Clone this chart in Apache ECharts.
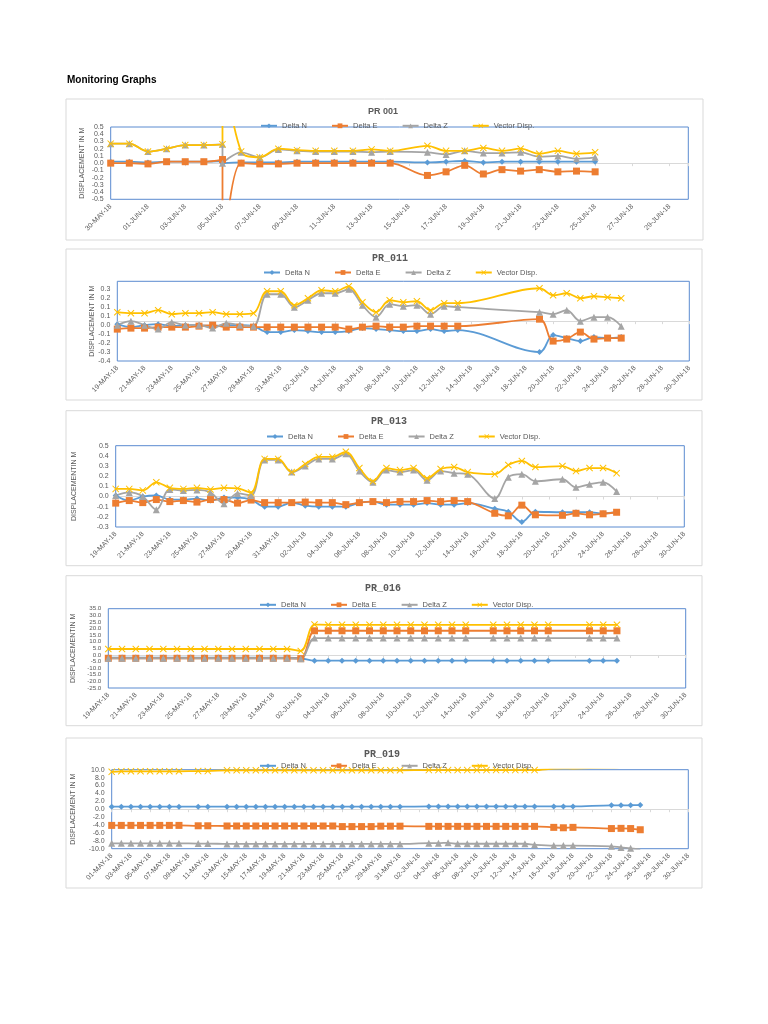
<!DOCTYPE html>
<html>
<head>
<meta charset="utf-8">
<script src="https://cdn.jsdelivr.net/npm/echarts/dist/echarts.min.js"></script>
<style>
html,body{margin:0;padding:0;background:#ffffff;}
#c{width:768px;height:1024px;}
</style>
</head>
<body>
<div id="c"></div>
<script>
// ---------------- DATA ----------------
const seriesNames = ['Delta N', 'Delta E', 'Delta Z', 'Vector Disp.'];

// PR 001
const pr001Dates = ['2018-05-30','2018-05-31','2018-06-01','2018-06-02','2018-06-03','2018-06-04','2018-06-05','2018-06-05','2018-06-06','2018-06-07','2018-06-08','2018-06-09','2018-06-10','2018-06-11','2018-06-12','2018-06-13','2018-06-14','2018-06-16','2018-06-17','2018-06-18','2018-06-19','2018-06-20','2018-06-21','2018-06-22','2018-06-23','2018-06-24','2018-06-25'];
const pr001DeltaN = [0.02,0.02,0.01,0.02,0.02,0.02,0.03,0.00,0.01,0.01,0.01,0.02,0.02,0.02,0.02,0.02,0.02,0.01,0.02,0.03,0.01,0.02,0.02,0.02,0.02,0.02,0.02];
const pr001DeltaE = [0.00,0.00,-0.01,0.02,0.02,0.02,0.05,-1.50,0.00,-0.01,-0.01,0.00,0.00,0.00,0.00,0.00,0.00,-0.17,-0.12,-0.03,-0.15,-0.09,-0.11,-0.09,-0.12,-0.11,-0.12];
const pr001DeltaZ = [0.27,0.27,0.16,0.20,0.25,0.25,0.26,0.00,0.15,0.08,0.19,0.17,0.16,0.16,0.16,0.15,0.16,0.15,0.12,0.17,0.14,0.14,0.15,0.09,0.10,0.06,0.08];
const pr001Vector = [0.27,0.27,0.16,0.20,0.25,0.25,0.26,1.50,0.16,0.08,0.20,0.18,0.17,0.17,0.17,0.19,0.17,0.24,0.17,0.17,0.21,0.17,0.20,0.13,0.17,0.13,0.15];

// PR_011
const pr011Dates = ['2018-05-19','2018-05-20','2018-05-21','2018-05-22','2018-05-23','2018-05-24','2018-05-25','2018-05-26','2018-05-27','2018-05-28','2018-05-29','2018-05-30','2018-05-31','2018-06-01','2018-06-02','2018-06-03','2018-06-04','2018-06-05','2018-06-06','2018-06-07','2018-06-08','2018-06-09','2018-06-10','2018-06-11','2018-06-12','2018-06-13','2018-06-19','2018-06-20','2018-06-21','2018-06-22','2018-06-23','2018-06-24','2018-06-25'];
const pr011DeltaN = [-0.03,-0.06,-0.04,-0.03,-0.05,-0.04,-0.04,-0.05,-0.04,-0.04,-0.05,-0.11,-0.11,-0.09,-0.10,-0.11,-0.11,-0.10,-0.07,-0.08,-0.09,-0.10,-0.10,-0.08,-0.10,-0.09,-0.31,-0.14,-0.17,-0.20,-0.16,-0.17,-0.16];
const pr011DeltaE = [-0.08,-0.07,-0.07,-0.06,-0.06,-0.06,-0.05,-0.04,-0.06,-0.06,-0.06,-0.06,-0.06,-0.06,-0.06,-0.06,-0.06,-0.08,-0.06,-0.05,-0.06,-0.06,-0.05,-0.05,-0.05,-0.05,0.02,-0.20,-0.18,-0.11,-0.18,-0.17,-0.17];
const pr011DeltaZ = [-0.04,0.00,-0.04,-0.08,-0.01,-0.04,-0.04,-0.07,-0.02,-0.04,-0.05,0.27,0.27,0.14,0.21,0.28,0.28,0.32,0.16,0.04,0.17,0.15,0.16,0.07,0.15,0.14,0.09,0.07,0.11,0.00,0.04,0.04,-0.05];
const pr011Vector = [0.09,0.08,0.08,0.11,0.07,0.08,0.08,0.09,0.07,0.07,0.08,0.30,0.30,0.16,0.23,0.31,0.30,0.35,0.19,0.09,0.21,0.19,0.20,0.11,0.18,0.18,0.33,0.26,0.28,0.23,0.25,0.24,0.23];

// PR_013
const pr013Dates = ['2018-05-19','2018-05-20','2018-05-21','2018-05-22','2018-05-23','2018-05-24','2018-05-25','2018-05-26','2018-05-27','2018-05-28','2018-05-29','2018-05-30','2018-05-31','2018-06-01','2018-06-02','2018-06-03','2018-06-04','2018-06-05','2018-06-06','2018-06-07','2018-06-08','2018-06-09','2018-06-10','2018-06-11','2018-06-12','2018-06-13','2018-06-14','2018-06-16','2018-06-17','2018-06-18','2018-06-19','2018-06-21','2018-06-22','2018-06-23','2018-06-24','2018-06-25'];
const pr013DeltaN = [0.01,-0.04,0.00,0.01,-0.03,-0.03,-0.02,-0.04,-0.01,-0.01,-0.03,-0.10,-0.10,-0.06,-0.09,-0.10,-0.10,-0.10,-0.06,-0.05,-0.08,-0.08,-0.08,-0.065,-0.08,-0.08,-0.065,-0.12,-0.15,-0.25,-0.15,-0.155,-0.155,-0.155,-0.165,-0.155];
const pr013DeltaE = [-0.065,-0.04,-0.06,-0.03,-0.05,-0.04,-0.055,-0.03,-0.03,-0.065,-0.035,-0.06,-0.06,-0.06,-0.055,-0.06,-0.06,-0.08,-0.06,-0.05,-0.06,-0.05,-0.05,-0.04,-0.05,-0.04,-0.05,-0.165,-0.19,-0.085,-0.18,-0.185,-0.165,-0.18,-0.17,-0.155];
const pr013DeltaZ = [0.01,0.04,0.00,-0.13,0.07,0.06,0.065,0.04,-0.07,0.03,0.01,0.36,0.36,0.24,0.30,0.37,0.37,0.42,0.25,0.14,0.26,0.24,0.26,0.16,0.25,0.23,0.22,-0.02,0.19,0.22,0.15,0.17,0.09,0.12,0.14,0.05];
const pr013Vector = [0.075,0.075,0.06,0.14,0.085,0.075,0.085,0.07,0.085,0.08,0.04,0.37,0.37,0.24,0.32,0.39,0.39,0.44,0.28,0.15,0.28,0.26,0.28,0.18,0.27,0.29,0.24,0.22,0.31,0.35,0.29,0.30,0.25,0.28,0.28,0.23];

// PR_016
const pr016Dates = ['2018-05-19','2018-05-20','2018-05-21','2018-05-22','2018-05-23','2018-05-24','2018-05-25','2018-05-26','2018-05-27','2018-05-28','2018-05-29','2018-05-30','2018-05-31','2018-06-01','2018-06-02','2018-06-03','2018-06-04','2018-06-05','2018-06-06','2018-06-07','2018-06-08','2018-06-09','2018-06-10','2018-06-11','2018-06-12','2018-06-13','2018-06-14','2018-06-16','2018-06-17','2018-06-18','2018-06-19','2018-06-20','2018-06-23','2018-06-24','2018-06-25'];
const pr016DeltaN = [-2.0,-2.0,-2.0,-2.0,-2.0,-2.0,-2.0,-2.0,-2.0,-2.0,-2.0,-2.0,-2.0,-2.0,-2.5,-4.3,-4.3,-4.3,-4.3,-4.3,-4.3,-4.3,-4.3,-4.3,-4.3,-4.3,-4.3,-4.3,-4.3,-4.3,-4.3,-4.3,-4.3,-4.3,-4.3];
const pr016DeltaE = [-2.5,-2.5,-2.5,-2.5,-2.5,-2.5,-2.5,-2.5,-2.5,-2.5,-2.5,-2.5,-2.5,-2.5,-2.8,18.3,18.3,18.3,18.3,18.3,18.3,18.3,18.3,18.3,18.3,18.3,18.3,18.3,18.3,18.3,18.3,18.3,18.3,18.3,18.3];
const pr016DeltaZ = [-2.5,-2.5,-2.5,-2.5,-2.5,-2.5,-2.5,-2.5,-2.5,-2.5,-2.5,-2.5,-2.5,-2.5,-2.8,12.8,12.8,12.8,12.8,12.8,12.8,12.8,12.8,12.8,12.8,12.8,12.8,12.8,12.8,12.8,12.8,12.8,12.8,12.8,12.8];
const pr016Vector = [4.5,4.5,4.5,4.5,4.5,4.5,4.5,4.5,4.5,4.5,4.5,4.5,4.5,4.5,3.0,23.0,22.8,22.8,22.8,22.8,22.8,22.8,22.8,22.8,22.8,22.8,22.8,22.8,22.8,22.8,22.8,22.8,22.8,22.8,22.8];

// PR_019
const pr019Dates = ['2018-05-01','2018-05-02','2018-05-03','2018-05-04','2018-05-05','2018-05-06','2018-05-07','2018-05-08','2018-05-10','2018-05-11','2018-05-13','2018-05-14','2018-05-15','2018-05-16','2018-05-17','2018-05-18','2018-05-19','2018-05-20','2018-05-21','2018-05-22','2018-05-23','2018-05-24','2018-05-25','2018-05-26','2018-05-27','2018-05-28','2018-05-29','2018-05-30','2018-05-31','2018-06-03','2018-06-04','2018-06-05','2018-06-06','2018-06-07','2018-06-08','2018-06-09','2018-06-10','2018-06-11','2018-06-12','2018-06-13','2018-06-14','2018-06-16','2018-06-17','2018-06-18','2018-06-22','2018-06-23','2018-06-24','2018-06-25'];
const pr019DeltaN = [0.63,0.63,0.63,0.63,0.63,0.63,0.63,0.63,0.63,0.63,0.63,0.63,0.63,0.63,0.63,0.63,0.63,0.63,0.63,0.63,0.63,0.63,0.63,0.63,0.63,0.63,0.63,0.63,0.63,0.70,0.70,0.70,0.70,0.70,0.70,0.70,0.70,0.70,0.70,0.70,0.70,0.70,0.70,0.70,0.97,0.97,1.00,1.05];
const pr019DeltaE = [-4.1,-4.1,-4.1,-4.1,-4.1,-4.1,-4.1,-4.1,-4.2,-4.2,-4.25,-4.25,-4.25,-4.25,-4.25,-4.25,-4.25,-4.25,-4.25,-4.25,-4.25,-4.25,-4.4,-4.4,-4.4,-4.4,-4.3,-4.3,-4.3,-4.35,-4.35,-4.35,-4.35,-4.35,-4.35,-4.35,-4.35,-4.35,-4.35,-4.35,-4.35,-4.6,-4.7,-4.6,-4.9,-4.85,-4.9,-5.2];
const pr019DeltaZ = [-8.65,-8.65,-8.65,-8.65,-8.65,-8.65,-8.65,-8.65,-8.7,-8.7,-8.8,-8.8,-8.8,-8.8,-8.8,-8.8,-8.8,-8.8,-8.8,-8.8,-8.8,-8.8,-8.8,-8.8,-8.8,-8.8,-8.8,-8.8,-8.8,-8.6,-8.6,-8.5,-8.75,-8.75,-8.75,-8.75,-8.75,-8.75,-8.75,-8.75,-9.0,-9.2,-9.2,-9.2,-9.4,-9.7,-9.9,-10.2];
const pr019Vector = [9.45,9.6,9.6,9.6,9.6,9.6,9.6,9.6,9.65,9.65,9.85,9.85,9.85,9.85,9.85,9.85,9.85,9.85,9.85,9.85,9.85,9.85,9.85,9.85,9.85,9.85,9.85,9.85,9.85,9.9,9.9,9.9,9.9,9.9,9.9,9.9,9.9,9.9,9.9,9.9,9.9,10.3,10.35,10.3,10.5,10.7,10.9,11.2];

// ---------------- LAYOUT / STYLE ----------------
const DAY = 86400000;
const MON = ['JAN','FEB','MAR','APR','MAY','JUN','JUL','AUG','SEP','OCT','NOV','DEC'];
function dayOff(start, d) { return Math.round((Date.parse(d) - Date.parse(start)) / DAY); }
function fmtDate(start, v) {
  if (Math.round(v) % 2 !== 0) return '';
  const t = new Date(Date.parse(start) + Math.round(v) * DAY);
  const dd = String(t.getUTCDate()).padStart(2, '0');
  return dd + '-' + MON[t.getUTCMonth()] + '-' + String(t.getUTCFullYear()).slice(2);
}
function fmt1(v) { const r = Math.round(v * 100) / 100; return (Math.round(r * 10) / 10).toFixed(1); }

const FONT = '"Liberation Sans", Arial, sans-serif';
const TXT = '#595959';
const colors = ['#5B9BD5', '#ED7D31', '#A5A5A5', '#FFC000'];
const xSym = 'path://M0,1L1,0L5,4L9,0L10,1L6,5L10,9L9,10L5,6L1,10L0,9L4,5Z';
const symbols = ['diamond', 'rect', 'triangle', xSym];
const symSizes = [6, 7, 7, 7];

const charts = [
  { title: 'PR 001', tFont: 'bold 9px ' + FONT, tx: 383, ty: 112, box: [66, 99, 637, 141],
    grid: { left: 110.7, top: 127, width: 577.6, height: 72.3 }, start: '2018-05-30', xmax: 31,
    ymin: -0.5, ymax: 0.5, yint: 0.1, shift: 0, yFs: 7, name: 'DISPLACEMENT IN M', nameGap: 25, lx: 260, ly: 126.3,
    dates: pr001Dates, vals: [pr001DeltaN, pr001DeltaE, pr001DeltaZ, pr001Vector] },
  { title: 'PR_011', tFont: 'bold 10px "Liberation Mono", monospace', tx: 390, ty: 258, box: [66, 249, 636, 151],
    grid: { left: 117.3, top: 281.3, width: 572, height: 79.7 }, start: '2018-05-19', xmax: 42,
    ymin: -0.4, ymax: 0.4, yint: 0.09, shift: 0.04, yFs: 7, name: 'DISPLACEMENT IN M', nameGap: 22, lx: 263, ly: 273,
    dates: pr011Dates, vals: [pr011DeltaN, pr011DeltaE, pr011DeltaZ, pr011Vector] },
  { title: 'PR_013', tFont: 'bold 10px "Liberation Mono", monospace', tx: 389, ty: 421, box: [66, 410.7, 636, 155],
    grid: { left: 115.7, top: 445.7, width: 568.6, height: 81.3 }, start: '2018-05-19', xmax: 42,
    ymin: -0.3, ymax: 0.5, yint: 0.1, shift: 0, yFs: 7, name: 'DISPLACEMENTIN M', nameGap: 38, lx: 266, ly: 437,
    dates: pr013Dates, vals: [pr013DeltaN, pr013DeltaE, pr013DeltaZ, pr013Vector] },
  { title: 'PR_016', tFont: 'bold 10px "Liberation Mono", monospace', tx: 383, ty: 588, box: [66, 575.7, 636, 150],
    grid: { left: 108.3, top: 608.7, width: 577.4, height: 79.3 }, start: '2018-05-19', xmax: 42,
    ymin: -25, ymax: 35, yint: 5, shift: 0, yFs: 6.2, name: 'DISPLACEMENTIN M', nameGap: 32, lx: 259, ly: 605.3,
    dates: pr016Dates, vals: [pr016DeltaN, pr016DeltaE, pr016DeltaZ, pr016Vector] },
  { title: 'PR_019', tFont: 'bold 10px "Liberation Mono", monospace', tx: 382, ty: 754.3, box: [66, 738, 636, 150],
    grid: { left: 111.7, top: 769.7, width: 576.6, height: 79 }, start: '2018-05-01', xmax: 60,
    ymin: -10, ymax: 10, yint: 2, shift: 0, yFs: 7, name: 'DISPLACEMENT IN M', nameGap: 35, lx: 259, ly: 766.3,
    dates: pr019Dates, vals: [pr019DeltaN, pr019DeltaE, pr019DeltaZ, pr019Vector] }
];

const grid = [], xAxis = [], yAxis = [], series = [], legend = [], graphic = [];

graphic.push({ type: 'text', left: 67, top: 75, style: { text: 'Monitoring Graphs', font: 'bold 10px ' + FONT, fill: '#000' } });

charts.forEach((c, i) => {
  graphic.push({ type: 'rect', shape: { x: c.box[0], y: c.box[1], width: c.box[2], height: c.box[3] },
    style: { fill: null, stroke: '#d9d9d9', lineWidth: 1 }, z: -1 });
  graphic.push({ type: 'text', x: c.tx, y: c.ty,
    style: { text: c.title, font: c.tFont, fill: TXT, align: 'center', verticalAlign: 'middle' } });

  grid.push(Object.assign({ show: true, borderColor: '#5b8bd0', borderWidth: 1, backgroundColor: 'transparent' }, c.grid));

  // y axes: one label axis (shifted when needed so ticks start at min) and one data axis
  const shift = c.shift;
  const lmin = c.ymin + shift, lmax = c.ymax + shift;
  const labelIdx = yAxis.length;
  const realMax = c.ymax;
  yAxis.push({
    gridIndex: i, type: 'value', min: Math.round(lmin * 100) / 100, max: Math.round(lmax * 100) / 100, interval: c.yint,
    axisLine: { show: false }, axisTick: { show: false }, splitLine: { show: false },
    axisLabel: { fontSize: c.yFs, lineHeight: 3, color: TXT, fontFamily: FONT, margin: 7,
      showMinLabel: true, showMaxLabel: true, hideOverlap: false,
      formatter: v => {
        const real = v - shift;
        if (shift && Math.abs(real - realMax) < 1e-6) return '';
        return fmt1(real);
      } },
    name: c.name, nameLocation: 'middle', nameRotate: 90, nameGap: c.nameGap, nameMoveOverlap: false,
    nameTextStyle: { fontSize: 7, color: TXT, fontFamily: FONT }
  });
  let dataIdx = labelIdx;
  if (shift) {
    dataIdx = yAxis.length;
    yAxis.push({ gridIndex: i, type: 'value', show: false, min: c.ymin, max: c.ymax,
      axisLine: { show: false }, axisTick: { show: false }, axisLabel: { show: false }, splitLine: { show: false } });
  }

  const start = c.start;
  const xLabIdx = xAxis.length;
  xAxis.push({
    gridIndex: i, type: 'value', position: 'bottom', min: 0, max: c.xmax, interval: 2,
    axisLine: { show: false, onZero: false }, axisTick: { show: false }, splitLine: { show: false },
    axisLabel: { rotate: 45, fontSize: 7, color: TXT, fontFamily: FONT, margin: 6,
      showMaxLabel: c.xmax % 2 === 0, formatter: v => fmtDate(start, v) }
  });
  xAxis.push({
    gridIndex: i, type: 'value', position: 'top', min: 0, max: c.xmax, interval: 2,
    axisLine: { show: true, onZero: true, onZeroAxisIndex: dataIdx, lineStyle: { color: '#d9d9d9', width: 1 } },
    axisTick: { show: true, inside: true, length: 3, lineStyle: { color: '#d9d9d9' } },
    axisLabel: { show: false }, splitLine: { show: false }
  });

  seriesNames.forEach((nm, k) => {
    series.push({
      name: nm, type: 'line', xAxisIndex: xLabIdx, yAxisIndex: dataIdx,
      data: c.dates.map((d, j) => [dayOff(start, d), c.vals[k][j]]),
      smooth: 0.35, clip: true,
      symbol: symbols[k], symbolSize: symSizes[k], showSymbol: true,
      itemStyle: { color: colors[k] },
      lineStyle: { color: colors[k], width: 1.8 },
      emphasis: { disabled: true }
    });
  });

  legend.push({
    left: c.lx, top: c.ly - 4.5, orient: 'horizontal', padding: 0,
    itemWidth: 16, itemHeight: 6, itemGap: 24,
    textStyle: { fontSize: 7.5, color: TXT, fontFamily: FONT },
    data: seriesNames, selectedMode: false
  });
});

const chart = echarts.init(document.getElementById('c'), null, { renderer: 'canvas' });
chart.setOption({
  backgroundColor: '#ffffff',
  animation: false,
  textStyle: { fontFamily: FONT },
  grid, xAxis, yAxis, series, legend, graphic
});
</script>
</body>
</html>
